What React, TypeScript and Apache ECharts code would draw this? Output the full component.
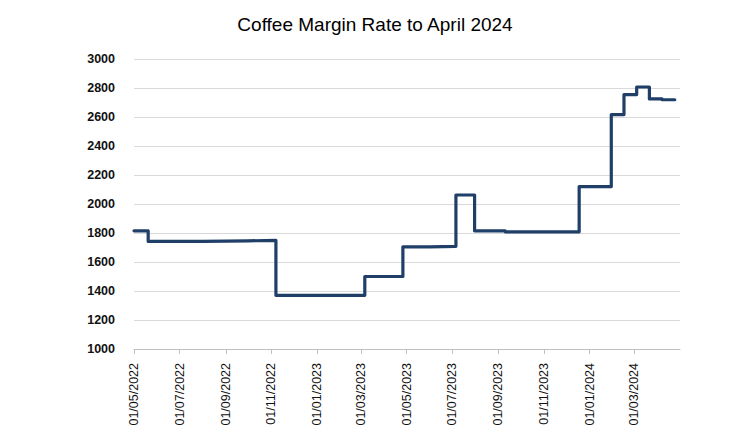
import React, { useEffect, useRef } from "react";
import * as echarts from "echarts";

const TITLE = "Coffee Margin Rate to April 2024";

// Dates where the rate changes (YYYY-MM-DD), and the rate from that date on
const changeDates = [
  "2022-05-01", "2022-05-20", "2022-08-01", "2022-10-01", "2022-11-07",
  "2023-03-06", "2023-04-26", "2023-06-01", "2023-07-06", "2023-07-31",
  "2023-09-10", "2023-12-18", "2024-01-30", "2024-02-16", "2024-03-04",
  "2024-03-21", "2024-04-07", "2024-04-24",
];
const rates = [
  1815, 1742, 1746, 1749, 1370,
  1500, 1705, 1708, 2062, 1815,
  1808, 2120, 2617, 2755, 2807,
  2725, 2719, 2719,
];

const tickLabels = [
  "01/05/2022", "01/07/2022", "01/09/2022", "01/11/2022", "01/01/2023",
  "01/03/2023", "01/05/2023", "01/07/2023", "01/09/2023", "01/11/2023",
  "01/01/2024", "01/03/2024",
];

const axisStart = "2022-05-01";
const axisEnd = "2024-05-01";
const yMin = 1000;
const yMax = 3000;
const yStep = 200;

const isoTs = (s: string) => {
  const [y, m, d] = s.split("-").map(Number);
  return Date.UTC(y, m - 1, d);
};
const dmyTs = (s: string) => {
  const [d, m, y] = s.split("/").map(Number);
  return Date.UTC(y, m - 1, d);
};
const pad = (n: number) => (n < 10 ? "0" + n : "" + n);
const fmt = (v: number) => {
  const d = new Date(v);
  return pad(d.getUTCDate()) + "/" + pad(d.getUTCMonth() + 1) + "/" + d.getUTCFullYear();
};

const FONT = "'Liberation Sans', Arial, sans-serif";

export default function App() {
  const ref = useRef<HTMLDivElement>(null);

  useEffect(() => {
    if (!ref.current) return;
    const chart = echarts.init(ref.current, undefined, { renderer: "svg" });
    const tickValues = tickLabels.map(dmyTs);
    const data = changeDates.map((d, i) => [isoTs(d), rates[i]]);

    chart.setOption({
      animation: false,
      backgroundColor: "#ffffff",
      title: {
        text: TITLE,
        left: "center",
        top: 10,
        textStyle: {
          fontFamily: FONT,
          fontSize: 19,
          fontWeight: "normal",
          color: "#000000",
        },
      },
      grid: { left: 134, right: 70, top: 59, bottom: 97, containLabel: false },
      xAxis: {
        type: "value",
        min: isoTs(axisStart),
        max: isoTs(axisEnd),
        axisLine: { show: true, lineStyle: { color: "#bfbfbf", width: 1 } },
        axisTick: {
          show: true,
          customValues: tickValues,
          length: 5,
          lineStyle: { color: "#bfbfbf" },
        },
        axisLabel: {
          customValues: tickValues,
          rotate: 90,
          margin: 14,
          fontFamily: FONT,
          fontSize: 12.5,
          color: "#111111",
          formatter: (v: number) => fmt(v),
        },
        splitLine: { show: false },
      },
      yAxis: {
        type: "value",
        min: yMin,
        max: yMax,
        interval: yStep,
        axisLine: { show: false },
        axisTick: { show: false },
        axisLabel: {
          margin: 19,
          fontFamily: FONT,
          fontSize: 12.5,
          fontWeight: "bold",
          color: "#111111",
          formatter: (v: number) => String(v),
        },
        splitLine: { show: true, lineStyle: { color: "#d9d9d9", width: 1 } },
      },
      series: [
        {
          type: "line",
          step: "end",
          data,
          showSymbol: false,
          symbol: "none",
          lineStyle: { color: "#1f3f68", width: 3.2, cap: "round", join: "round" },
        },
      ],
    });

    return () => chart.dispose();
  }, []);

  return (
    <div
      ref={ref}
      style={{ position: "fixed", left: 0, top: 0, width: 750, height: 446 }}
    />
  );
}
